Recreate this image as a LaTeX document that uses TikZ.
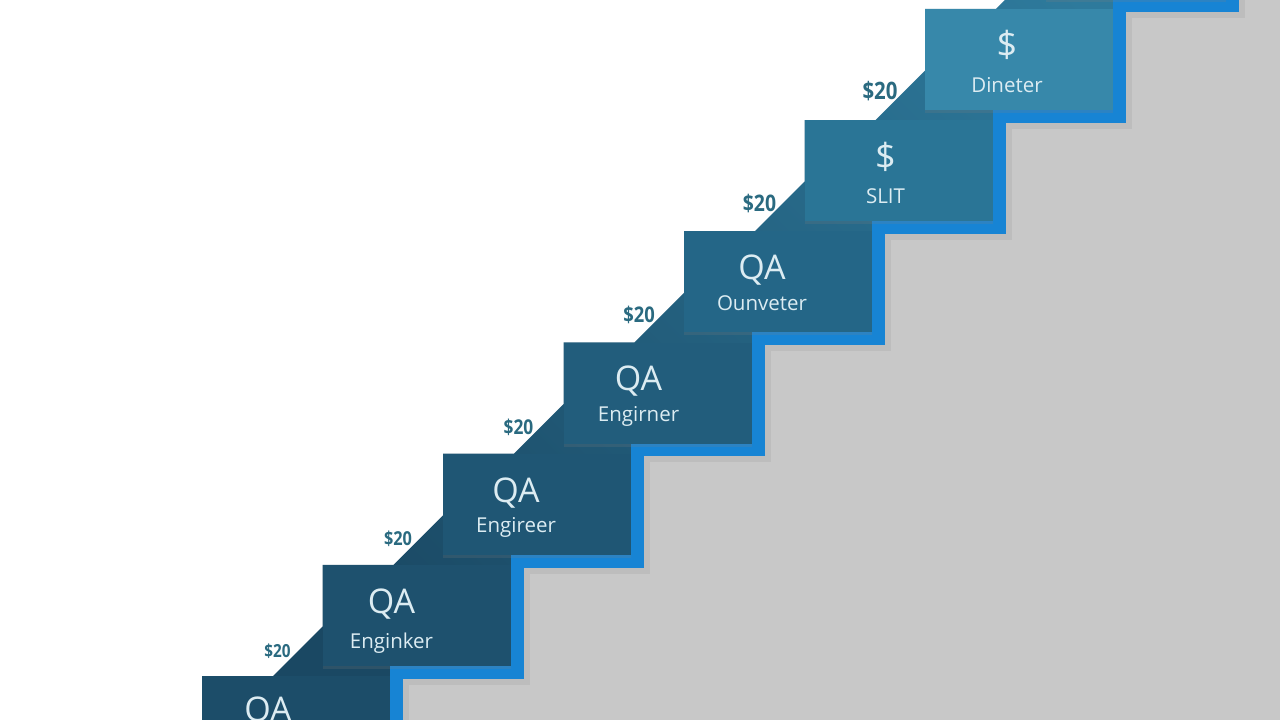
\documentclass[tikz,border=0pt]{standalone}
\usepackage{fontspec}
\setmainfont{Open Sans}
\usetikzlibrary{shadows}
\definecolor{bgray}{HTML}{C8C8C8}
\definecolor{strip}{HTML}{1784D4}
\definecolor{rampA}{HTML}{1A4863}
\definecolor{rampB}{HTML}{2E7A9C}
\definecolor{bxA}{HTML}{1C4D69}
\definecolor{bxB}{HTML}{1E516E}
\definecolor{bxC}{HTML}{1F5674}
\definecolor{bxD}{HTML}{225D7C}
\definecolor{bxE}{HTML}{246687}
\definecolor{bxF}{HTML}{2A7596}
\definecolor{bxG}{HTML}{3788AA}
\definecolor{bxH}{HTML}{2F80B0}
\definecolor{txtc}{HTML}{DCECF2}
\definecolor{lblc}{HTML}{2A6A80}
\tikzset{
  stepbox/.style={draw=none, minimum width=188pt, minimum height=101pt, inner sep=0pt, anchor=north west,
    drop shadow={shadow xshift=0pt, shadow yshift=-3pt, opacity=0.2}},
  bigtxt/.style={text=txtc, font=\fontsize{34}{34}\selectfont, inner sep=0pt, anchor=base},
  dollartxt/.style={text=txtc, font=\fontsize{36}{36}\selectfont, inner sep=0pt, anchor=base},
  subtxt/.style={text=txtc, font=\fontsize{20.5}{20.5}\selectfont, inner sep=0pt, anchor=base},
  paylbl/.style={text=lblc, inner sep=0pt, anchor=base, xscale=0.85},
}
\begin{document}
\begin{tikzpicture}[x=1pt,y=-1pt]
\useasboundingbox (0,0) rectangle (1280,720);
\clip (0,0) rectangle (1280,720);
\fill[white] (0,0) rectangle (1280,720);
% grey floor
\fill[bgray] (1232,-130) -- (1232,5.1) -- (1119.5,5.1) -- (1119.5,116.3) -- (999,116.3) -- (999,227.5)
  -- (878.5,227.5) -- (878.5,338.7) -- (758,338.7) -- (758,449.9) -- (637.5,449.9) -- (637.5,561.1)
  -- (517,561.1) -- (517,672.3) -- (396.5,672.3) -- (396.5,740) -- (1300,740) -- (1300,-130) -- cycle;
% soft shadow on the grey
\draw[black, opacity=0.05, line width=6pt, line join=miter]
  (1241.5,-30) -- (1241.5,14.6) -- (1129,14.6) -- (1129,125.8) -- (1008.5,125.8) -- (1008.5,237)
  -- (888,237) -- (888,348.2) -- (767.5,348.2) -- (767.5,459.4) -- (647,459.4) -- (647,570.6)
  -- (526.5,570.6) -- (526.5,681.8) -- (406,681.8) -- (406,740);
% salary labels
\node[paylbl, font=\bfseries\fontsize{18}{18}\selectfont] (l1) at (277.5,657.4) {\$20};
\node[paylbl, font=\bfseries\fontsize{19.2}{19.2}\selectfont] (l2) at (398,545.9) {\$20};
\node[paylbl, font=\bfseries\fontsize{20.4}{20.4}\selectfont] (l3) at (518.5,434.3) {\$20};
\node[paylbl, font=\bfseries\fontsize{21.6}{21.6}\selectfont] (l4) at (639,322.7) {\$20};
\node[paylbl, font=\bfseries\fontsize{22.8}{22.8}\selectfont] (l5) at (759.5,211.1) {\$20};
\node[paylbl, font=\bfseries\fontsize{24}{24}\selectfont] (l6) at (880,99.6) {\$20};
% ramp behind the steps
\shade[shading=axis, bottom color=rampA, top color=rampB, shading angle=-45]
  (202,740) -- (202,676) -- (273,676) -- (322.5,626.5) -- (322.5,564.8) -- (393.5,564.8) -- (443,515.3)
  -- (443,453.6) -- (514,453.6) -- (563.5,404.1) -- (563.5,342.4) -- (634.5,342.4) -- (684,292.9)
  -- (684,231.2) -- (755,231.2) -- (804.5,181.7) -- (804.5,120) -- (875.5,120) -- (925,70.5)
  -- (925,8.8) -- (996,8.8) -- (1045.5,-40.7) -- (1045.5,-130) -- (1232,-130)
  -- (1232,5.1) -- (1119.5,5.1) -- (1119.5,116.3) -- (999,116.3) -- (999,227.5)
  -- (878.5,227.5) -- (878.5,338.7) -- (758,338.7) -- (758,449.9) -- (637.5,449.9) -- (637.5,561.1)
  -- (517,561.1) -- (517,672.3) -- (396.5,672.3) -- (396.5,740) -- cycle;
% bright blue edge
\draw[strip, line width=13pt, line join=miter]
  (1232,-30) -- (1232,5.1) -- (1119.5,5.1) -- (1119.5,116.3) -- (999,116.3) -- (999,227.5)
  -- (878.5,227.5) -- (878.5,338.7) -- (758,338.7) -- (758,449.9) -- (637.5,449.9) -- (637.5,561.1)
  -- (517,561.1) -- (517,672.3) -- (396.5,672.3) -- (396.5,740);
% step boxes
\node[stepbox, fill=bxH, minimum width=180pt] (b8) at (1045.5,-102.4) {};
\node[stepbox, fill=bxG] (b7) at (925,8.8) {};
\node[stepbox, fill=bxF] (b6) at (804.5,120) {};
\node[stepbox, fill=bxE] (b5) at (684,231.2) {};
\node[stepbox, fill=bxD] (b4) at (563.5,342.4) {};
\node[stepbox, fill=bxC] (b3) at (443,453.6) {};
\node[stepbox, fill=bxB] (b2) at (322.5,564.8) {};
\node[stepbox, fill=bxA] (b1) at (202,676) {};
% texts
\node[bigtxt] (t1a) at (268,721) {QA};
\node[bigtxt] (t2a) at (391.5,613.3) {QA};
\node[subtxt] (t2b) at (391.5,648.5) {Enginker};
\node[bigtxt] (t3a) at (516,502.1) {QA};
\node[subtxt] (t3b) at (516,532.5) {Engireer};
\node[bigtxt] (t4a) at (638.5,390.9) {QA};
\node[subtxt] (t4b) at (638.5,421.5) {Engirner};
\node[bigtxt] (t5a) at (762,279.7) {QA};
\node[subtxt] (t5b) at (762,310.5) {Ounveter};
\node[dollartxt] (t6a) at (885.5,169) {\$};
\node[subtxt] (t6b) at (885.5,203) {SLIT};
\node[dollartxt] (t7a) at (1007,57.8) {\$};
\node[subtxt] (t7b) at (1007,92) {Dineter};
\end{tikzpicture}
\end{document}
